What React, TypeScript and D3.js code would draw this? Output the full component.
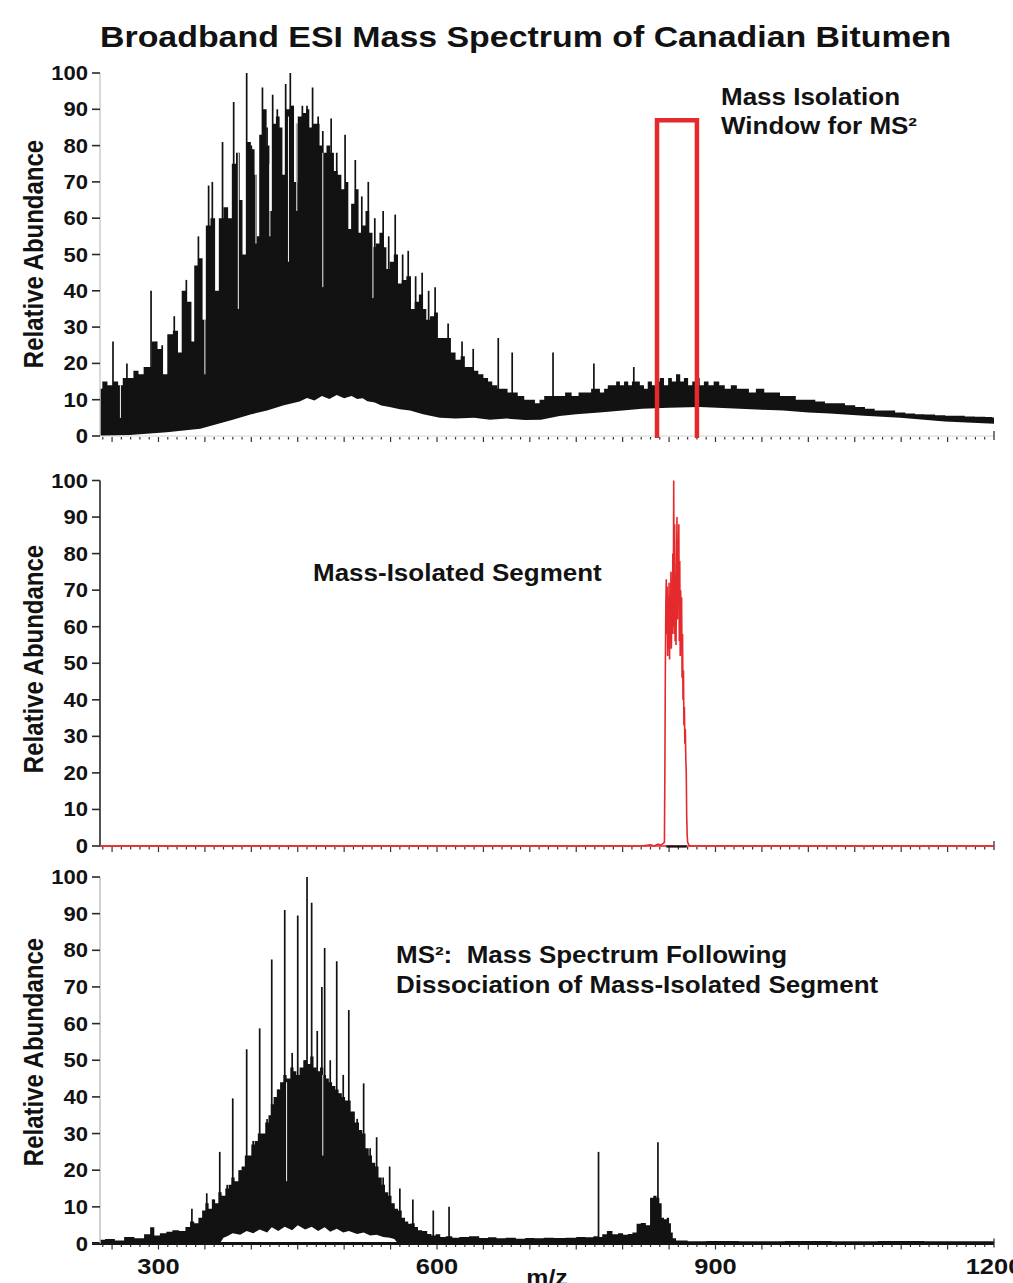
import { useEffect, useRef } from 'react';
import * as d3 from 'd3';

type Pt = [number, number];
type Gap = [number, number, number];

// axes
const MZ_DOMAIN: [number, number] = [237, 1200];
const MZ_LABELS = [300, 600, 900, 1200];
const ABUNDANCE_TICKS = [0, 10, 20, 30, 40, 50, 60, 70, 80, 90, 100];

// broadband spectrum: body top [m/z, %], valley floor, tall peaks, white gaps [m/z, from, to]
const ms1Body: Pt[] = [
  [237, 13], [242, 15], [248, 14], [254, 15], [259, 14], [264, 16], [270, 16], [276, 18], [281, 17], [287, 19],
  [291, 19], [295, 26], [302, 24], [307, 17], [312, 28], [319, 29], [323, 23], [327, 40], [334, 37], [337, 26],
  [340, 47], [346, 49], [349, 32], [353, 58], [359, 60], [363, 40], [367, 60], [373, 63], [377, 60], [381, 75],
  [386, 78], [389, 65], [392, 50], [397, 81], [402, 79], [405, 72], [407, 55], [410, 83], [415, 90], [418, 80],
  [421, 62], [424, 86], [429, 88], [432, 85], [435, 72], [439, 90], [444, 91], [448, 70], [452, 88], [457, 89],
  [461, 90], [464, 85], [469, 86], [472, 86], [475, 80], [479, 78], [483, 80], [487, 78], [491, 73], [495, 72],
  [499, 68], [503, 70], [506, 57], [509, 64], [514, 68], [517, 56], [521, 58], [525, 62], [529, 56], [532, 52],
  [536, 53], [540, 56], [544, 52], [547, 46], [551, 48], [556, 50], [560, 42], [564, 43], [570, 44], [574, 35],
  [578, 37], [583, 39], [587, 35], [590, 32], [595, 33], [599, 34], [603, 27], [608, 27], [613, 27], [617, 23],
  [623, 21], [628, 22], [632, 19], [637, 19], [642, 18], [647, 17], [653, 16], [657, 15], [662, 14], [668, 13],
  [673, 13], [679, 12], [684, 12], [690, 11], [698, 10], [703, 10], [708, 9], [713, 10], [718, 11], [724, 11],
  [728, 11], [735, 11], [741, 12], [749, 11], [756, 12], [763, 12], [769, 13], [773, 13], [778, 12], [782, 13],
  [786, 14], [791, 14], [795, 15], [799, 14], [804, 15], [808, 14], [812, 15], [816, 15], [821, 14], [825, 13],
  [829, 15], [834, 14], [838, 15], [842, 16], [847, 14], [851, 16], [855, 15], [860, 17], [864, 15], [868, 16],
  [873, 14], [877, 15], [881, 16], [885, 14], [890, 15], [895, 14], [901, 15], [907, 14], [913, 13], [920, 14],
  [926, 13], [933, 13], [939, 12], [948, 13], [957, 12], [965, 12], [974, 11], [982, 11], [991, 10], [1002, 10],
  [1013, 9.5], [1023, 9], [1034, 9], [1045, 8.5], [1056, 8], [1066, 7.5], [1077, 7], [1088, 7], [1099, 6.5],
  [1110, 6.2], [1120, 6], [1131, 5.9], [1142, 5.7], [1153, 5.6], [1163, 5.6], [1174, 5.4], [1185, 5.3], [1196, 5.2],
  [1200, 5.1],
];
const ms1Floor: Pt[] = [
  [237, 0], [269, 0.3], [309, 1], [345, 2], [380, 4.5], [400, 6], [417, 7], [435, 8.5], [452, 9.5], [460, 10.5],
  [468, 9.8], [476, 11], [484, 10.2], [492, 11.3], [500, 10.4], [508, 11], [514, 10.2], [520, 10.4], [525, 9.6],
  [533, 9.2], [540, 8.4], [549, 8], [560, 7.4], [571, 7], [585, 6], [603, 5], [620, 4.8], [640, 5], [657, 4.5],
  [675, 4.8], [695, 4.4], [712, 4.5], [732, 5.5], [750, 6], [775, 6.5], [800, 7], [821, 7.5], [850, 7.8], [883, 8],
  [920, 7.6], [950, 7.2], [973, 7], [1000, 6.5], [1023, 6.2], [1060, 5.6], [1099, 5], [1147, 4], [1200, 3.4],
];
const ms1Peaks: Pt[] = [
  [251, 26], [266, 20], [292, 40], [298, 26], [304, 25], [317, 33], [330, 43], [343, 55], [354, 69], [358, 70],
  [369, 81], [381, 92], [395, 100], [400, 80], [412, 96], [417, 85], [423, 94], [428, 90], [437, 97], [442, 100],
  [445, 91], [449, 86], [455, 91], [460, 91], [466, 96], [472, 88], [477, 84], [486, 87.5], [492, 78], [501, 83],
  [512, 76], [519, 66], [526, 70], [533, 60], [542, 62], [548, 55], [555, 61], [563, 50], [569, 51], [577, 44],
  [584, 45], [591, 40], [598, 41], [612, 31], [627, 26], [639, 24], [666, 27], [681, 23], [725, 23], [769, 20],
  [812, 19],
];
const ms1Gaps: Gap[] = [
  [259, 5, 14], [350, 17, 32], [386, 35, 78], [405, 53, 78], [420, 55, 75], [440, 48, 88], [449, 62, 86],
  [477, 41, 78], [531, 38, 52],
];

// mass isolation window (m/z) and its drawn height (%)
const isolationWindow: [number, number] = [837, 880];
const isolationTop = 87;

// mass-isolated segment trace
const isolatedTrace: Pt[] = [
  [237, 0], [820, 0], [830, 0.3], [834, 0], [838, 0.5], [841, 0.2], [843, 0.6], [845, 1], [845.5, 22], [846, 49],
  [846.5, 66], [847, 73], [847.5, 58], [848, 71], [848.5, 52], [849, 68], [849.5, 54], [850, 72], [850.5, 51],
  [851, 64], [851.5, 56], [852, 75], [852.5, 54], [853, 70], [853.5, 58], [854, 80], [854.5, 60], [855, 100],
  [855.5, 58], [856, 88], [856.5, 56], [857, 70], [857.5, 55], [858, 75], [858.5, 90], [859, 62], [859.5, 84],
  [860, 66], [860.5, 88], [861, 56], [861.5, 78], [862, 52], [862.5, 70], [863, 54], [863.5, 68], [864, 46],
  [864.5, 58], [865, 40], [865.5, 48], [866, 33], [866.5, 38], [867, 28], [867.5, 32], [868, 24], [868.5, 20],
  [869, 8], [869.5, 3], [870, 1], [872, 0], [1200, 0],
];
const isolatedBase: [number, number] = [847, 869];

// MS2 spectrum after dissociation
const ms2Body: Pt[] = [
  [237, 1], [248, 1.2], [258, 0.8], [268, 1.8], [280, 1.4], [289, 2.5], [293, 4.4], [298, 2.2], [305, 2.8],
  [312, 3.2], [318, 3.6], [326, 3.4], [332, 4.5], [336, 6], [341, 5.5], [345, 7], [349, 9], [352, 11], [356, 9.5],
  [359, 12], [363, 11], [366, 14], [370, 13], [374, 15], [377, 16], [380, 18], [384, 17], [388, 20], [391, 21],
  [395, 24], [398, 24], [402, 27], [405, 28], [409, 30], [413, 30], [417, 33], [420, 35], [422, 38], [426, 40],
  [429, 42], [433, 44], [436, 46], [440, 45], [444, 48], [447, 47], [450, 46], [454, 48], [458, 50], [462, 49],
  [465, 51], [469, 48], [472, 47], [476, 48], [479, 46], [482, 45], [485, 44], [489, 43], [492, 42], [496, 41],
  [499, 40], [503, 39], [505, 39], [509, 36], [514, 33], [518, 31], [521, 30], [525, 26], [528, 24], [532, 22],
  [535, 21], [539, 18], [542, 16], [546, 14], [549, 13], [553, 11], [556, 9.5], [560, 9], [564, 7], [567, 6],
  [571, 5.4], [574, 5.5], [578, 4.5], [581, 3.6], [587, 3.4], [592, 2.6], [596, 2.2], [601, 2.5], [606, 1.8],
  [613, 2], [620, 1.6], [628, 1.8], [641, 2], [650, 1.5], [660, 1.7], [668, 1.4], [680, 1.6], [690, 1.3],
  [700, 1.5], [710, 1.4], [720, 1.6], [732, 1.5], [745, 1.6], [755, 1.8], [765, 1.7], [772, 2], [776, 1.8],
  [780, 2.5], [786, 3.4], [792, 2.5], [798, 2.8], [803, 2.4], [808, 2.6], [813, 3], [817, 5.4], [822, 5.6],
  [828, 5], [831, 12.5], [835, 13], [838, 12.5], [841, 11], [843, 7], [846, 6.6], [849, 7], [851, 5.5], [853, 3],
  [855, 1.4], [860, 0.8], [880, 0.6], [900, 0.7], [950, 0.6], [1000, 0.7], [1050, 0.6], [1100, 0.7], [1150, 0.6],
  [1200, 0.6],
];
const ms2Floor: Pt[] = [
  [237, 0], [366, 0], [370, 1.6], [374, 2], [380, 2.8], [388, 2.4], [395, 3.4], [402, 2.8], [409, 3.8], [417, 3],
  [422, 4.4], [429, 3.4], [436, 4.6], [444, 3.6], [450, 5], [458, 3.8], [465, 4.6], [472, 3.4], [479, 4.4],
  [485, 3.2], [492, 4], [499, 3], [505, 3.4], [514, 2.6], [521, 3], [528, 2.2], [535, 2.4], [542, 1.8], [549, 1.6],
  [554, 1.2], [558, 0], [1200, 0],
];
const ms2Peaks: Pt[] = [
  [336, 9.5], [352, 13.7], [359, 12], [366, 25], [374, 16], [380, 39.6], [388, 20], [395, 53], [402, 28],
  [409, 58.7], [417, 34], [422, 77.5], [429, 42], [436, 91], [444, 52], [450, 89.5], [458, 50], [460, 100],
  [465, 93], [471, 58], [476, 70], [479, 80.6], [485, 50], [492, 77], [499, 46], [505, 63.7], [514, 34],
  [521, 43.7], [528, 26], [535, 29], [542, 18], [549, 21], [560, 15], [574, 12], [596, 9], [613, 10], [774, 25],
  [838, 27.6],
];
const ms2Gaps: Gap[] = [[438, 17, 44], [477, 24, 46]];

const FONT = "'Liberation Sans', Arial, Helvetica, sans-serif";
const INK = '#121212';
const RED = '#e42a2c';
const STRETCH = 1.13; // lettering in the figure is widened a little

export default function App() {
  const svgRef = useRef<SVGSVGElement>(null);

  useEffect(() => {
    if (!svgRef.current) return;
    const svg = d3.select(svgRef.current);
    svg.selectAll('*').remove();
    svg.append('rect').attr('width', 1013).attr('height', 1283).attr('fill', '#fff');

    const x = d3.scaleLinear().domain(MZ_DOMAIN).range([100, 994]);

    const label = (str: string, px: number, py: number, size: number, anchor = 'start', rotate = false) =>
      svg.append('text')
        .attr('transform', `translate(${px},${py}) scale(${STRETCH},1)${rotate ? ' rotate(-90)' : ''}`)
        .attr('text-anchor', anchor)
        .attr('font-family', FONT)
        .attr('font-weight', 'bold')
        .attr('font-size', size)
        .attr('fill', INK)
        .style('white-space', 'pre')
        .text(str);

    // panel layout: pixel rows of 0 % and 100 %
    const panels = [
      { y0: 436, y100: 73, labelY: 254, axis: '#cdcdcd', base: '#d4d4d4', baseW: 1 },
      { y0: 846, y100: 480.5, labelY: 659, axis: '#1a1a1a', base: RED, baseW: 1.4 },
      { y0: 1243.5, y100: 877, labelY: 1052, axis: '#c2c2c2', base: INK, baseW: 3 },
    ];
    const ys = panels.map(p => d3.scaleLinear().domain([0, 100]).range([p.y0, p.y100]));

    const drawSpectrum = (y: d3.ScaleLinear<number, number>, body: Pt[], floor: Pt[], peaks: Pt[], gaps: Gap[]) => {
      const g = svg.append('g');
      const bodyArea = d3.area<Pt>().curve(d3.curveStep).x(d => x(d[0])).y0(y(0)).y1(d => y(d[1]));
      const floorArea = d3.area<Pt>().x(d => x(d[0])).y0(y(0)).y1(d => y(d[1]));
      g.append('path').datum(body).attr('d', bodyArea).attr('fill', INK);
      g.selectAll('.peak')
        .data(peaks)
        .enter()
        .append('line')
        .attr('class', 'peak')
        .attr('x1', d => x(d[0]))
        .attr('x2', d => x(d[0]))
        .attr('y1', y(0))
        .attr('y2', d => y(d[1]))
        .attr('stroke', INK)
        .attr('stroke-width', 1.7);
      g.selectAll('.gap')
        .data(gaps)
        .enter()
        .append('line')
        .attr('class', 'gap')
        .attr('x1', d => x(d[0]))
        .attr('x2', d => x(d[0]))
        .attr('y1', d => y(d[1]))
        .attr('y2', d => y(d[2]))
        .attr('stroke', '#fbf3f1')
        .attr('stroke-width', 1);
      g.append('path').datum(floor).attr('d', floorArea).attr('fill', '#fff');
    };

    drawSpectrum(ys[0], ms1Body, ms1Floor, ms1Peaks, ms1Gaps);
    drawSpectrum(ys[2], ms2Body, ms2Floor, ms2Peaks, ms2Gaps);

    // axes
    panels.forEach((p, i) => {
      const y = ys[i];
      const g = svg.append('g');
      g.append('line')
        .attr('x1', i === 2 ? 92 : 100).attr('x2', 994)
        .attr('y1', y(0)).attr('y2', y(0))
        .attr('stroke', p.base).attr('stroke-width', p.baseW);
      g.selectAll('.xt')
        .data(d3.range(240, 1200, 10))
        .enter()
        .append('line')
        .attr('class', 'xt')
        .attr('x1', d => x(d)).attr('x2', d => x(d))
        .attr('y1', y(0) + 1)
        .attr('y2', d => y(0) + (d % 50 === 0 ? 6 : 3.5))
        .attr('stroke', '#333')
        .attr('stroke-width', 1.2);
      g.append('line')
        .attr('x1', x(1200)).attr('x2', x(1200))
        .attr('y1', y(0) - 5).attr('y2', y(0) + 4)
        .attr('stroke', '#333').attr('stroke-width', 1.3);

      g.append('line')
        .attr('x1', 100).attr('x2', 100)
        .attr('y1', y(0)).attr('y2', y(100))
        .attr('stroke', p.axis).attr('stroke-width', 1.5);
      g.selectAll('.yt')
        .data(ABUNDANCE_TICKS)
        .enter()
        .append('line')
        .attr('class', 'yt')
        .attr('x1', 92).attr('x2', 100)
        .attr('y1', d => y(d)).attr('y2', d => y(d))
        .attr('stroke', '#2a2a2a').attr('stroke-width', 1.6);
      ABUNDANCE_TICKS.forEach(t => label(String(t), 88, y(t) + 7, 19.5, 'end'));
      label('Relative Abundance', 43, p.labelY, 24, 'middle', true);
    });

    // isolated segment (middle panel)
    const yMid = ys[1];
    svg.append('path')
      .datum(isolatedTrace)
      .attr('d', d3.line<Pt>().x(d => x(d[0])).y(d => yMid(d[1])))
      .attr('fill', 'none')
      .attr('stroke', RED)
      .attr('stroke-width', 1.6);
    svg.append('line')
      .attr('x1', x(isolatedBase[0])).attr('x2', x(isolatedBase[1]))
      .attr('y1', yMid(0) + 0.5).attr('y2', yMid(0) + 0.5)
      .attr('stroke', INK).attr('stroke-width', 2.2);

    // isolation window box (top panel)
    const yTop = ys[0];
    svg.append('path')
      .attr('d', `M${x(isolationWindow[0])},${yTop(0) + 2}V${yTop(isolationTop)}H${x(isolationWindow[1])}V${yTop(0) + 2}`)
      .attr('fill', 'none')
      .attr('stroke', RED)
      .attr('stroke-width', 4.5);

    // x labels
    MZ_LABELS.forEach(v => label(String(v), x(v), 1274, 22.5, 'middle'));
    label('m/z', 547, 1285, 22, 'middle');

    // text
    label('Broadband ESI Mass Spectrum of Canadian Bitumen', 100, 47, 30);
    label('Mass Isolation', 721, 105, 23);
    label('Window for MS²', 721, 134, 23);
    label('Mass-Isolated Segment', 313, 581, 23);
    label('MS²:  Mass Spectrum Following', 396, 963, 23);
    label('Dissociation of Mass-Isolated Segment', 396, 993, 23);
  }, []);

  return (
    <svg
      ref={svgRef}
      width={1013}
      height={1283}
      style={{ position: 'absolute', left: 0, top: 0, display: 'block' }}
    />
  );
}
